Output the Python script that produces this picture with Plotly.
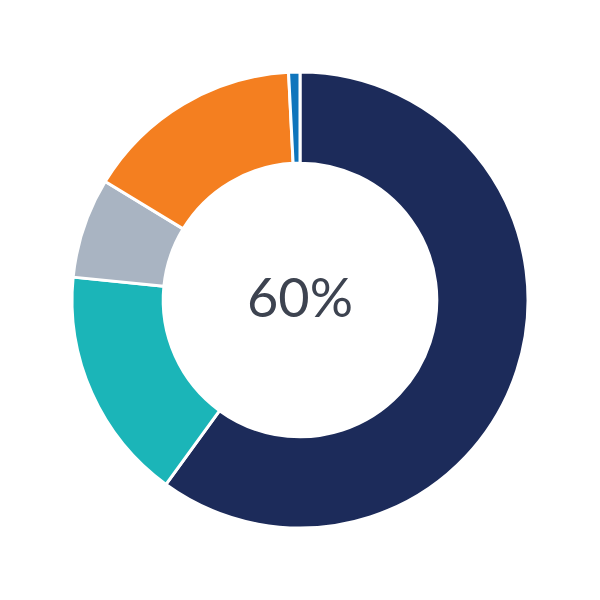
import plotly.graph_objects as go

labels = ["A", "B", "C", "D", "E"]
values = [60, 16.6, 7.1, 15.5, 0.8]
colors = ["#1c2b5a", "#1bb5b8", "#a9b4c2", "#f47f20", "#0f75bc"]
center_text = "60%"

fig = go.Figure(go.Pie(
    labels=labels,
    values=values,
    hole=0.6,
    sort=False,
    direction="clockwise",
    rotation=0,
    marker=dict(colors=colors, line=dict(color="white", width=3)),
    textinfo="none",
    hoverinfo="label+percent",
    showlegend=False,
))

fig.add_annotation(
    text=center_text, x=0.5, y=0.5, xref="paper", yref="paper",
    showarrow=False, yshift=4,
    font=dict(family="Lato", size=54, color="#3d4350", weight=400),
)

# page body adds 8px offset, so shift the plot area up/left
fig.update_layout(
    width=600, height=600,
    margin=dict(l=64, r=80, t=64, b=80),
    paper_bgcolor="white",
    plot_bgcolor="white",
)

fig.write_html("out.html")
